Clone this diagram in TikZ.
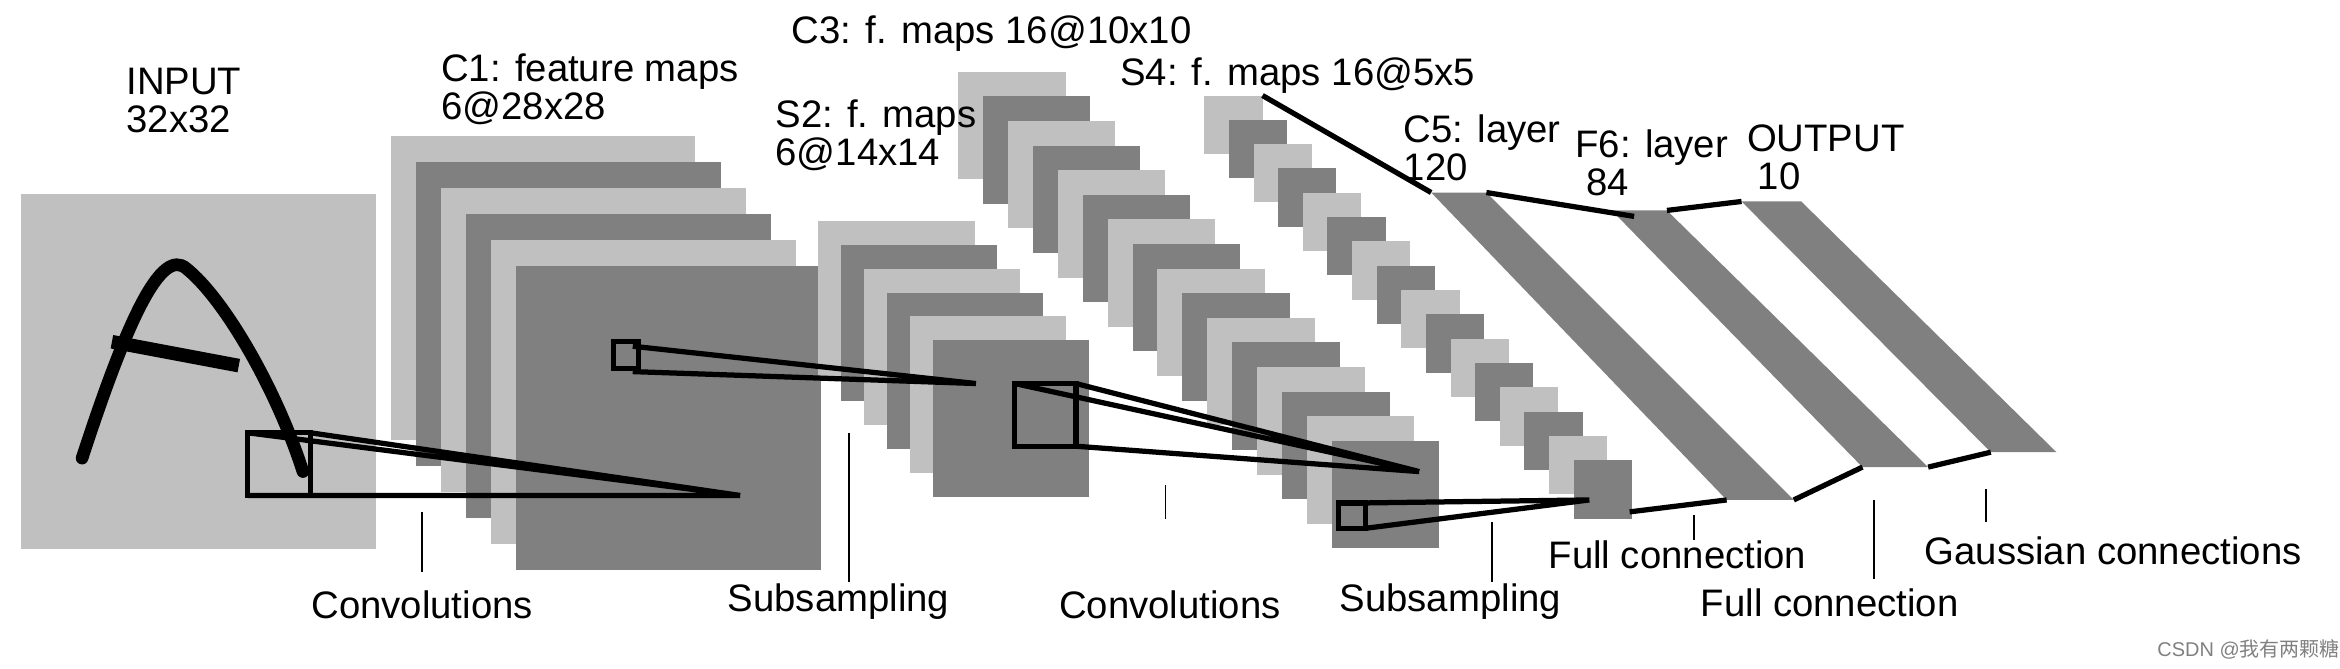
\documentclass[tikz,border=0pt]{standalone}
\usepackage{fontspec}
\setmainfont{Liberation Sans}
\newfontfamily\cjk{Noto Sans CJK SC}
\definecolor{mapLight}{HTML}{C0C0C0}
\definecolor{mapDark}{HTML}{808080}
% stack of feature maps: name, x, y, size, dx, dy, count
\newcommand{\mapstack}[7]{%
  \foreach \i in {1,...,#7}{%
    \pgfmathsetmacro{\mx}{#2+(\i-1)*#5}%
    \pgfmathsetmacro{\my}{#3+(\i-1)*#6}%
    \ifodd\i \def\mcol{mapLight}\else \def\mcol{mapDark}\fi
    \node[fmap, fill=\mcol, minimum size=#4*0.01cm] (#1\i) at (\mx,\my) {};
  }%
}
\begin{document}
\begin{tikzpicture}[x = 0.01cm, y = -0.01cm, % pixel grid, y down
                fmap/.style = {draw = none, rectangle, anchor = north west,
                  inner sep = 0pt, outer sep = 0pt},
                lbl/.style = {inner sep = 0pt, anchor = north west, align = left,
                  font = \fontsize{7.3}{7.3}\selectfont},
                sub/.style = {lbl, anchor = west},
                tick/.style = {line width = 0.35pt},
                link/.style = {line width = 1pt},
                band/.style = {fill = mapDark, draw = none}
            ]
            \useasboundingbox (0,0) rectangle (1568,448);

            % input
            \node[fmap, fill=mapLight, minimum size=238*0.01cm] (in) at (14,130) {};
            \draw[line width = 2.4pt, line cap = round] (55,307) .. controls (85,215) and (108,165) .. (125,180)
                .. controls (150,200) and (185,260) .. (203,316);
            \draw[line width = 2.6pt] (75,229) -- (160,245);
            \node[lbl] (inL) at (84,45) {INPUT\\32x32};

            % feature map stacks
            \mapstack{c}{262}{91}{204}{16.8}{17.4}{6}
            \mapstack{s}{548}{148}{105}{15.4}{16}{6}
            \mapstack{t}{642}{48}{72}{16.7}{16.5}{16}
            \mapstack{f}{807}{64}{39}{16.5}{16.3}{16}
            \node[lbl] (c1L) at (295,35) {C1: feature maps\\6@28x28};
            \node[lbl] (s2L) at (519,66) {S2: f. maps\\6@14x14};
            \node[lbl] (c3L) at (530,10) {C3: f. maps 16@10x10};
            \node[lbl] (s4L) at (750,38) {S4: f. maps 16@5x5};

            % receptive fields
            \draw[link] (166,290) rectangle (208,332);
            \draw[link, line width = 0.7pt] (208,290) -- (208,332);
            \coordinate (p1) at (496,332);
            \draw[link] (166,290) -- (p1) (208,290) -- (p1) (166,332) -- (p1);
            \draw[link] (411,229) rectangle (428,247);
            \coordinate (p2) at (654,257);
            \draw[link] (424,232) -- (p2) (424,249) -- (p2);
            \draw[link] (680,257) rectangle (721,299);
            \coordinate (p3) at (951,316);
            \draw[link] (680,257) -- (p3) (721,257) -- (p3) (721,299) -- (p3);
            \draw[link] (897,337) rectangle (915,354);
            \coordinate (p4) at (1065,335);
            \draw[link] (915,337) -- (p4) (915,354) -- (p4);

            % fully connected layers
            \coordinate (c5a) at (959,129); \coordinate (c5b) at (996,129);
            \coordinate (c5c) at (1202,335); \coordinate (c5d) at (1157,335);
            \coordinate (f6a) at (1080,141); \coordinate (f6b) at (1117,141);
            \coordinate (f6c) at (1292,313); \coordinate (f6d) at (1248,313);
            \coordinate (oa) at (1167,135); \coordinate (ob) at (1207,135);
            \coordinate (oc) at (1378,303); \coordinate (od) at (1334,303);
            \fill[band] (c5a) -- (c5b) -- (c5c) -- (c5d) -- cycle;
            \fill[band] (f6a) -- (f6b) -- (f6c) -- (f6d) -- cycle;
            \fill[band] (oa) -- (ob) -- (oc) -- (od) -- cycle;
            \draw[link] (f1.north east) -- (c5a);
            \draw[link] (1092,343) -- (c5d);
            \draw[link] (c5b) -- (1095,145);
            \draw[link] (c5c) -- (f6d);
            \draw[link] (f6b) -- (oa);
            \draw[link] (f6c) -- (od);
            \node[lbl] (c5L) at (940,76) {C5: layer\\120};
            \node[lbl] (f6L) at (1055,86) {F6: layer\\\ 84};
            \node[lbl] (oL) at (1170,83) {OUTPUT\\\ 10};

            % operations
            \draw[tick] (283,343) -- (283,383);
            \draw[tick] (569,290) -- (569,390);
            \draw[tick] (781,325) -- (781,348);
            \draw[tick] (1000,350) -- (1000,390);
            \draw[tick] (1135,345) -- (1135,362);
            \draw[tick] (1256,335) -- (1256,388);
            \draw[tick] (1331,328) -- (1331,350);
            \node[sub] (op1) at (208,405) {Convolutions};
            \node[sub] (op2) at (487,403) {Subsampling};
            \node[sub] (op3) at (709,405) {Convolutions};
            \node[sub] (op4) at (897,403) {Subsampling};
            \node[sub] (op5) at (1037,372) {Full connection};
            \node[sub] (op6) at (1139,404) {Full connection};
            \node[sub] (op7) at (1289,369) {Gaussian connections};
            \node[sub, font = \fontsize{3.8}{4}\selectfont, text = mapDark] (wm) at (1445,435) {CSDN @{\cjk 我有两颗糖}};
        \end{tikzpicture}
\end{document}
